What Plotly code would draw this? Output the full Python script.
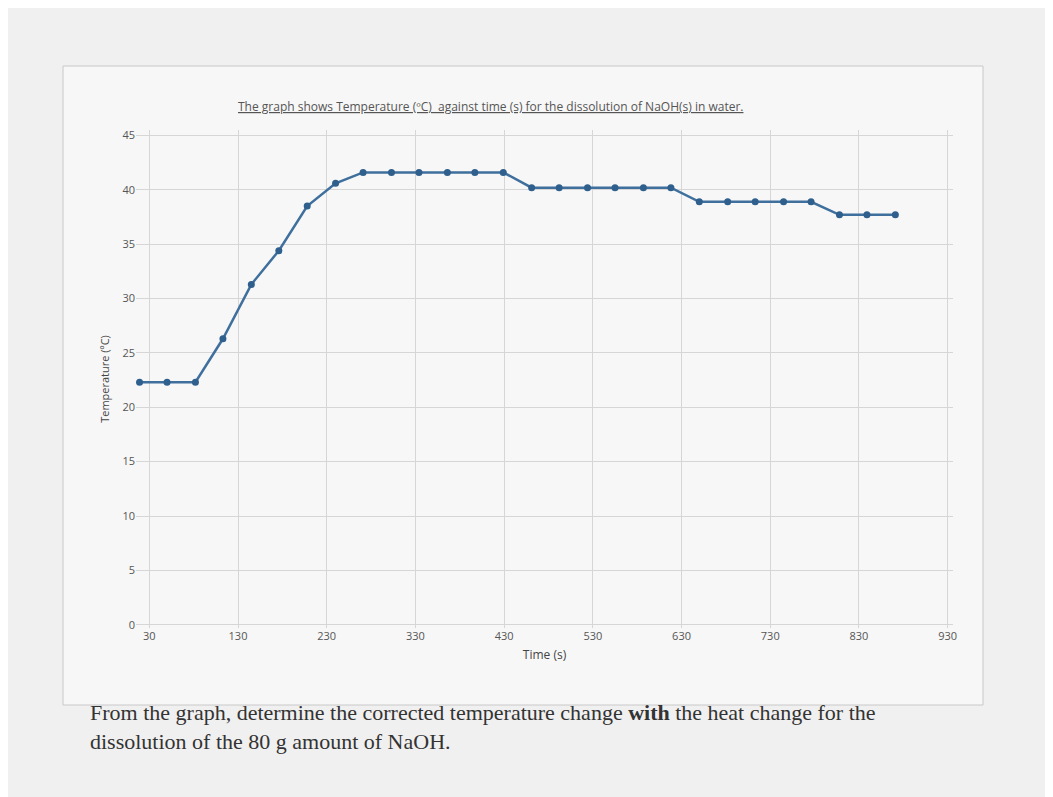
import plotly.graph_objects as go

times = [19, 50, 82, 113, 145, 176, 208, 240, 271, 303, 334, 366, 397, 429,
         461, 492, 524, 555, 587, 618, 650, 682, 713, 745, 776, 808, 839, 871]
temps = [22.3, 22.3, 22.3, 26.3, 31.3, 34.4, 38.5, 40.6, 41.6, 41.6, 41.6, 41.6, 41.6, 41.6,
         40.2, 40.2, 40.2, 40.2, 40.2, 40.2, 38.9, 38.9, 38.9, 38.9, 38.9, 37.7, 37.7, 37.7]
x_ticks = [30, 130, 230, 330, 430, 530, 630, 730, 830, 930]
y_ticks = [0, 5, 10, 15, 20, 25, 30, 35, 40, 45]

fig = go.Figure(go.Scatter(x=times, y=temps, mode="lines+markers",
                           line=dict(color="#3f6f9c", width=2.5),
                           marker=dict(color="#2f5f8c", size=7)))
W, H = 1053, 797
ml, mr, mt, mb = 128, 108, 122, 177
pw, ph = W - ml - mr, H - mt - mb
def px(x): return (x - ml) / pw
def py(y): return (H - mb - y) / ph
fig.add_shape(type="rect", xref="paper", yref="paper",
              x0=px(55), x1=px(975), y0=py(697), y1=py(58),
              line=dict(color="#c8c8c8", width=1), fillcolor="#f7f7f7", layer="below")
fig.add_annotation(xref="paper", yref="paper", x=px(228), y=py(88), xanchor="left",
                   text="<u>The graph shows Temperature (ºC)  against time (s) for the dissolution of NaOH(s) in water.</u>",
                   showarrow=False, font=dict(family="Open Sans", size=12, color="#555"))
fig.add_annotation(xref="paper", yref="paper", x=px(80), y=py(748), xanchor="left",
                   align="left",
                   text="From the graph, determine the corrected temperature change <b>with</b> the heat change for the<br>dissolution of the 80 g amount of NaOH.",
                   showarrow=False, font=dict(family="Liberation Serif", size=22, color="#333"))
fig.update_layout(
    width=W, height=H, margin=dict(l=ml, r=mr, t=mt, b=mb),
    paper_bgcolor="#f0f0f0", plot_bgcolor="#f7f7f7", showlegend=False,
    xaxis=dict(range=[15, 936], tickvals=x_ticks, showgrid=True, gridcolor="#d6d6d6",
               zeroline=False, tickfont=dict(size=11, color="#555"),
               title=dict(text="Time (s)", font=dict(size=12, color="#444"), standoff=8)),
    yaxis=dict(range=[-0.3, 45.5], tickvals=y_ticks, showgrid=True, gridcolor="#d6d6d6",
               zeroline=False, tickfont=dict(size=11, color="#555"),
               title=dict(text="Temperature (ºC)", font=dict(size=11, color="#444"), standoff=10)),
)
fig.write_html("out.html")
